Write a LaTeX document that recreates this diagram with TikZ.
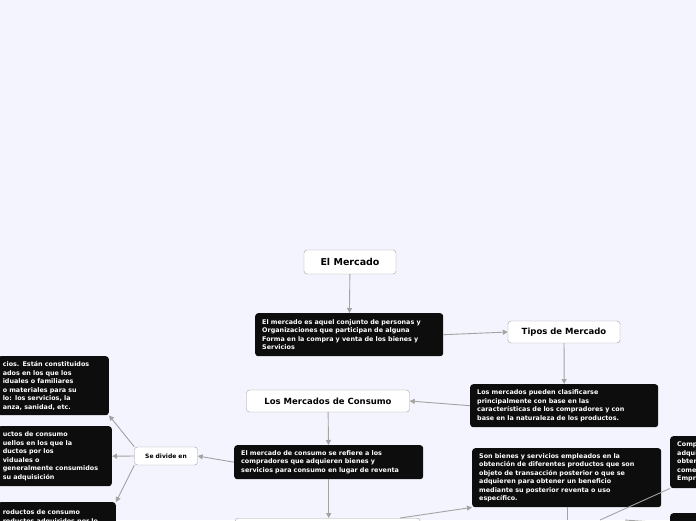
\documentclass[tikz,border=0pt]{standalone}
\usepackage{fontspec}
\setmainfont{DejaVu Sans}
\usetikzlibrary{arrows.meta}
\definecolor{bg}{HTML}{F3F4FE}
\definecolor{ln}{HTML}{A3A3A3}
\tikzset{
 dark/.style={fill=black!95,text=white,rounded corners=3pt,font=\fontsize{6.4}{8.5}\selectfont\bfseries,align=left,inner xsep=7pt,inner ysep=5pt,anchor=north west,text width=#1},
 topic/.style={fill=white,draw=ln,rounded corners=3pt,font=\bfseries,inner sep=3pt},
 con/.style={draw=ln,line width=0.9pt,-{Triangle[length=5pt,width=5pt]}},
 plain/.style={draw=ln,line width=0.9pt}
}
\begin{document}
\begin{tikzpicture}[x=1pt,y=-1pt]
\fill[bg] (0,0) rectangle (696,520);
\useasboundingbox (0,0) rectangle (696,520);
\node[topic,minimum width=92pt,minimum height=24pt,font=\fontsize{9.5}{10}\selectfont\bfseries] (m) at (350,262) {El Mercado};
\node[dark=174pt,minimum height=43pt] (def) at (255,313) {El mercado es aquel conjunto de personas y\\Organizaciones que participan de alguna\\Forma en la compra y venta de los bienes y\\Servicios};
\node[topic,minimum width=112pt,minimum height=22pt,font=\fontsize{8.5}{9}\selectfont\bfseries] (tipos) at (564,332) {Tipos de Mercado};
\node[dark=174pt,minimum height=43pt] (pue) at (470,384) {Los mercados pueden clasificarse\\principalmente con base en las\\características de los compradores y con\\base en la naturaleza de los productos.};
\node[topic,minimum width=163pt,minimum height=22pt,font=\fontsize{8.5}{9}\selectfont\bfseries] (cons) at (328,401) {Los Mercados de Consumo};
\node[dark=175pt,minimum height=34pt] (mc) at (234,445) {El mercado de consumo se refiere a los\\compradores que adquieren bienes y\\servicios para consumo en lugar de reventa};
\node[topic,minimum width=63pt,minimum height=18pt,font=\fontsize{6}{6}\selectfont\bfseries] (div) at (166,456) {Se divide en};
\node[dark=101pt,minimum height=59pt,anchor=north east,inner xsep=5pt] (l1) at (109,356) {cios. Están constituidos\\ados en los que los\\iduales o familiares\\o materiales para su\\lo: los servicios, la\\anza, sanidad, etc.};
\node[dark=104pt,minimum height=60pt,anchor=north east,inner xsep=5pt] (l2) at (112,426) {uctos de consumo\\uellos en los que la\\ductos por los\\viduales o\\generalmente consumidos\\su adquisición};
\node[dark=108pt,minimum height=30pt,anchor=north east,inner xsep=5pt] (l3) at (116,502) {roductos de consumo\\roductos adquiridos por lo};
\node[dark=175pt,minimum height=59pt] (son) at (472,448) {Son bienes y servicios empleados en la\\obtención de diferentes productos que son\\objeto de transacción posterior o que se\\adquieren para obtener un beneficio\\mediante su posterior reventa o uso\\específico.};
\node[dark=46pt,minimum height=52pt] (r1) at (670,436) {Compradores\\adquieren\\obtener\\comercia\\Empresas};
\node[dark=26pt,minimum height=20pt] (r2) at (670,513) {};
\node[topic,minimum width=185pt,minimum height=20pt,anchor=north west] (ind) at (235,518) {};
\draw[con] (m) -- (def);
\draw[con] (def.east) -- (tipos.west);
\draw[con] (tipos) -- (pue);
\draw[con] (pue.west) -- (cons.east);
\draw[con] (cons) -- (mc);
\draw[con] (mc.west) -- (div.east);
\draw[con] (div.north west) -- (l1.south east);
\draw[con] (div.west) -- (l2.east);
\draw[con] (div.south west) -- (l3.north east);
\draw[con] (mc.south) -- (ind.north -| mc.south);
\draw[con] (400,518) -- (son.south west);
\coordinate (sb) at (567,520);
\draw[plain] (son.south -| sb) -- (sb);
\coordinate (c1) at (600,520);
\draw[plain] (c1) -- (r1.south west);
\coordinate (c2) at (625,520);
\draw[plain] (c2) -- (r2.west);
\end{tikzpicture}
\end{document}
